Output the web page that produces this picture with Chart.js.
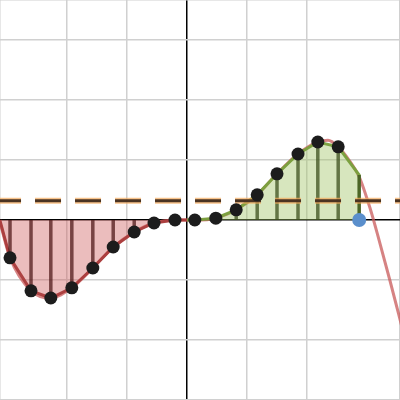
<!DOCTYPE html>
<html><head><meta charset="utf-8">
<script src="https://cdn.jsdelivr.net/npm/chart.js@4"></script>
<style>html,body{margin:0;padding:0;background:#fff;overflow:hidden}#wrap{position:absolute;left:-7px;top:-7px;width:414px;height:414px}</style>
</head><body><div id="wrap"><canvas id="c"></canvas></div>
<script>
// sample points (grid units)
const sampleX = [-2.95, -2.6, -2.27, -1.92, -1.57, -1.23, -0.88, -0.55, -0.2, 0.13, 0.48, 0.82, 1.17, 1.5, 1.85, 2.18, 2.52, 2.87];
const sampleY = [-0.63, -1.18, -1.3, -1.13, -0.8, -0.45, -0.2, -0.05, 0, 0, 0.03, 0.17, 0.42, 0.77, 1.1, 1.3, 1.22, 0.75];
// underlying curve
const curveX = [-3.2, -3.12, -2.95, -2.6, -2.27, -1.92, -1.57, -1.23, -0.88, -0.55, -0.2, 0.13, 0.48, 0.82, 1.17, 1.5, 1.85, 2.18, 2.35, 2.52, 2.7, 2.87, 3.05, 3.2, 3.38, 3.6];
const curveY = [0.25, -0.03, -0.63, -1.18, -1.3, -1.13, -0.8, -0.45, -0.2, -0.05, 0, 0, 0.03, 0.17, 0.42, 0.77, 1.1, 1.3, 1.33, 1.22, 1.0, 0.72, 0.2, -0.33, -1.0, -1.85];
const meanY = 0.32;
const endX = 2.87;

const pts = sampleX.map((x, i) => ({x, y: sampleY[i]}));
const left = pts.filter(p => p.x < 0);
const right = pts.filter(p => p.x > 0);
const redPoly = [{x: -3.12, y: 0}, ...left, {x: 0, y: 0}];
const greenPoly = [{x: 0, y: 0}, ...right, {x: endX, y: 0}];
function stems(arr) {
  const out = [];
  arr.forEach(p => { out.push({x: p.x, y: 0}, {x: p.x, y: p.y}, {x: p.x, y: NaN}); });
  return out;
}
const base = {showLine: true, pointRadius: 0, tension: 0, spanGaps: false};

// note: first dataset is drawn on top
new Chart(document.getElementById('c'), {
  type: 'scatter',
  data: {datasets: [
    {data: [{x: endX, y: 0}], pointRadius: 7, pointBackgroundColor: '#5a8fcc', pointBorderWidth: 0},
    {data: pts.slice(0, -1), pointRadius: 6.5, pointBackgroundColor: '#1c1c1c', pointBorderWidth: 0},
    {...base, data: [{x: -3.2, y: meanY}, {x: 3.6, y: meanY}], borderColor: '#4a3322', borderWidth: 3, borderDash: [26, 14]},
    {...base, data: [{x: -3.2, y: meanY}, {x: 3.6, y: meanY}], borderColor: 'rgba(245,170,90,0.7)', borderWidth: 6, borderDash: [26, 14]},
    {...base, data: stems(left), borderColor: 'rgba(80,25,25,0.75)', borderWidth: 3.5},
    {...base, data: stems(right), borderColor: 'rgba(60,80,30,0.75)', borderWidth: 3.5},
    {...base, data: redPoly, borderColor: 'rgba(170,60,60,0.95)', borderWidth: 3, fill: 'origin', backgroundColor: 'rgba(205,90,90,0.4)'},
    {...base, data: greenPoly, borderColor: 'rgba(120,160,60,0.95)', borderWidth: 3, fill: 'origin', backgroundColor: 'rgba(160,195,100,0.42)'},
    {...base, data: curveX.map((x, i) => ({x, y: curveY[i]})), borderColor: 'rgba(200,90,90,0.75)', borderWidth: 3, cubicInterpolationMode: 'monotone'}
  ]},
  options: {
    responsive: true, maintainAspectRatio: false, animation: false,
    layout: {padding: 0},
    plugins: {legend: {display: false}, tooltip: {enabled: false}},
    scales: {
      x: {type: 'linear', min: -3.117, max: 3.55, ticks: {display: false, stepSize: 1}, border: {display: false},
        grid: {color: c => c.tick.value === 0 ? '#000' : '#d0d0d0', lineWidth: 1.5, drawTicks: false}},
      y: {type: 'linear', min: -3, max: 3.667, ticks: {display: false, stepSize: 1}, border: {display: false},
        grid: {color: c => c.tick.value === 0 ? '#000' : '#d0d0d0', lineWidth: 1.5, drawTicks: false}}
    }
  }
});
</script></body></html>
